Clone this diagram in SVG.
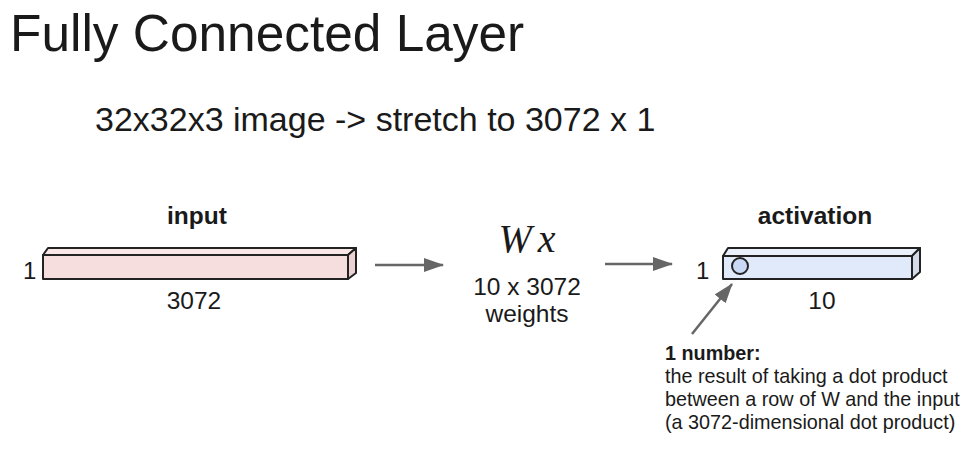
<svg xmlns="http://www.w3.org/2000/svg" width="976" height="449" viewBox="0 0 976 449">
<style>
text{font-family:"Liberation Sans",Arial,sans-serif;fill:#1a1a1a}
text.math{font-family:"Liberation Serif","Times New Roman",serif;font-style:italic}
.b{font-weight:bold}
.edge{stroke:#222;stroke-width:2;stroke-linejoin:round}
.arr{stroke:#666;stroke-width:2.5;fill:none}
.ann{font-size:19.8px}
</style>
<defs>
<marker id="ah" markerUnits="userSpaceOnUse" markerWidth="20" markerHeight="14" refX="19" refY="7" orient="auto">
<path d="M0,0 L20,7 L0,14 Z" fill="#666"/>
</marker>
</defs>
<rect width="976" height="449" fill="#fff"/>
<text x="10" y="51" font-size="51.4">Fully Connected Layer</text>
<text x="95" y="131" font-size="34">32x32x3 image -&gt; stretch to 3072 x 1</text>

<g id="input">
<text class="b" x="197" y="224" font-size="24.5" text-anchor="middle">input</text>
<polygon class="edge" points="43,255 48,248 356,248 348,255" fill="#f9e6e6"/>
<polygon class="edge" points="348,255 356,248 356,273 348,279" fill="#ead2d2"/>
<rect class="edge" x="43" y="255" width="305" height="24" fill="#f6dede"/>
<text x="23" y="279" font-size="24">1</text>
<text x="194" y="309" font-size="24.5" text-anchor="middle">3072</text>
</g>

<g id="weights">
<text class="math" x="527" y="252" font-size="40" text-anchor="middle">W<tspan dx="6">x</tspan></text>
<text x="527" y="295" font-size="24.5" text-anchor="middle">10 x 3072</text>
<text x="527" y="322" font-size="24.5" text-anchor="middle">weights</text>
</g>

<g id="activation">
<text class="b" x="815" y="224" font-size="24.5" text-anchor="middle">activation</text>
<polygon class="edge" points="723,256 728,248 920,248 912,256" fill="#e9f0fb"/>
<polygon class="edge" points="912,256 920,248 920,272 912,279" fill="#d3dbe8"/>
<rect class="edge" x="723" y="256" width="189" height="23" fill="#e1eafa"/>
<circle cx="740" cy="266" r="8" fill="#c9d9f5" stroke="#222" stroke-width="2"/>
<text x="696" y="279" font-size="24">1</text>
<text x="822" y="309" font-size="24.5" text-anchor="middle">10</text>
</g>

<g id="annotation">
<text class="b ann" x="665" y="360">1 number:</text>
<text class="ann" x="665" y="383">the result of taking a dot product</text>
<text class="ann" x="665" y="406">between a row of W and the input</text>
<text class="ann" x="665" y="429">(a 3072-dimensional dot product)</text>
</g>

<g id="connectors">
<line class="arr" x1="375" y1="265" x2="443" y2="265" marker-end="url(#ah)"/>
<line class="arr" x1="605" y1="264" x2="672" y2="264" marker-end="url(#ah)"/>
<line class="arr" x1="692" y1="334" x2="732" y2="284" marker-end="url(#ah)"/>
</g>
</svg>
